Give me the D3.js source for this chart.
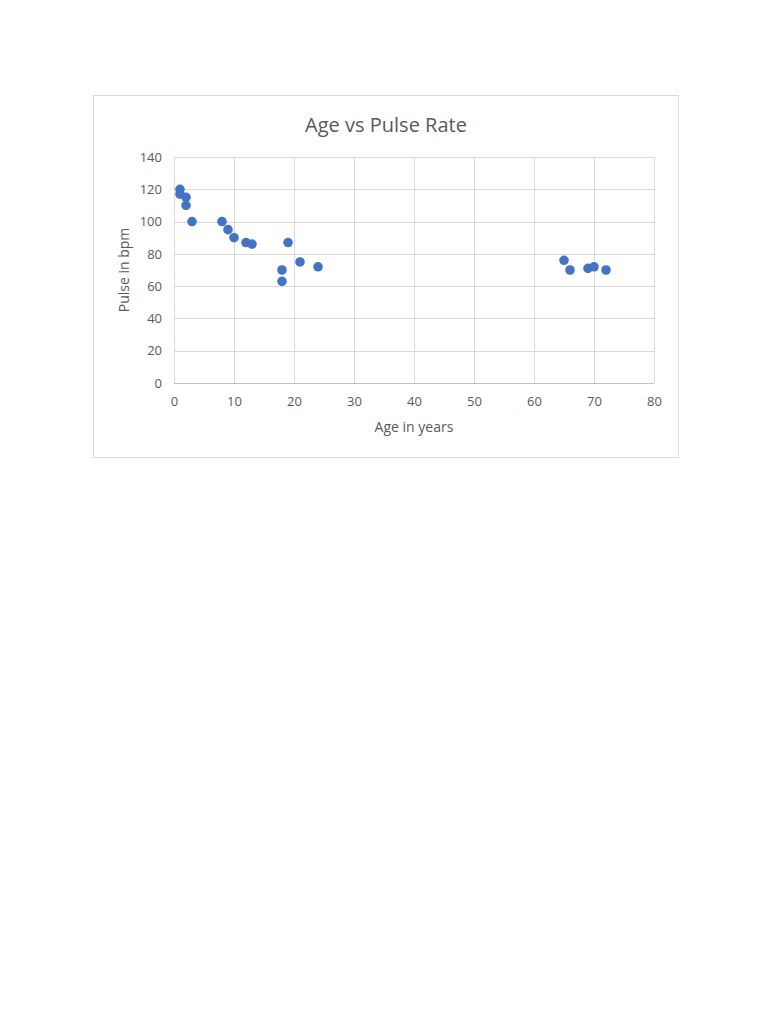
<!DOCTYPE html>
<html>
<head>
<meta charset="utf-8">
<script src="https://d3js.org/d3.v7.min.js"></script>
<style>
  body { margin: 0; background: #fff; }
  text { font-family: "Open Sans", "Liberation Sans", sans-serif; }
</style>
</head>
<body>
<script>
// readings
const ages   = [1, 1, 2, 2, 3, 8, 9, 10, 12, 13, 18, 18, 19, 21, 24, 65, 66, 69, 70, 72];
const pulses = [120, 117, 115, 110, 100, 100, 95, 90, 87, 86, 70, 63, 87, 75, 72, 76, 70, 71, 72, 70];
const xTicks = [0, 10, 20, 30, 40, 50, 60, 70, 80];
const yTicks = [0, 20, 40, 60, 80, 100, 120, 140];

const points = ages.map((a, i) => ({age: a, pulse: pulses[i]}));

const svg = d3.select('body').append('svg')
  .attr('width', 768)
  .attr('height', 1024);

// chart frame
svg.append('rect')
  .attr('x', 93.5).attr('y', 95.5)
  .attr('width', 585).attr('height', 362)
  .attr('fill', '#fff')
  .attr('stroke', '#d9d9d9')
  .attr('stroke-width', 1);

const x = d3.scaleLinear().domain([0, 80]).range([174, 654]);
const y = d3.scaleLinear().domain([0, 140]).range([383, 157]);

// gridlines
svg.append('g')
  .selectAll('line')
  .data(yTicks)
  .enter()
  .append('line')
  .attr('x1', x(0)).attr('x2', x(80))
  .attr('y1', d => Math.round(y(d)) + 0.5)
  .attr('y2', d => Math.round(y(d)) + 0.5)
  .attr('stroke', '#d9d9d9');

svg.append('g')
  .selectAll('line')
  .data(xTicks)
  .enter()
  .append('line')
  .attr('y1', y(0)).attr('y2', y(140))
  .attr('x1', d => Math.round(x(d)) + 0.5)
  .attr('x2', d => Math.round(x(d)) + 0.5)
  .attr('stroke', '#d9d9d9');

// axes (labels only, lines drawn above)
const xAxis = svg.append('g')
  .attr('transform', `translate(0,${y(0)})`)
  .call(d3.axisBottom(x).tickValues(xTicks).tickSize(0).tickPadding(14));

const yAxis = svg.append('g')
  .attr('transform', `translate(${x(0)},0)`)
  .call(d3.axisLeft(y).tickValues(yTicks).tickSize(0).tickPadding(12));

[xAxis, yAxis].forEach(a => {
  a.select('.domain').remove();
  a.selectAll('text')
    .style('font-family', '"Open Sans", sans-serif')
    .style('font-size', '13px')
    .attr('fill', '#595959');
});

svg.append('line')
  .attr('x1', x(0)).attr('x2', x(80))
  .attr('y1', Math.round(y(0)) + 0.5).attr('y2', Math.round(y(0)) + 0.5)
  .attr('stroke', '#bfbfbf');

// points
svg.append('g')
  .selectAll('circle')
  .data(points)
  .enter()
  .append('circle')
  .attr('cx', d => x(d.age))
  .attr('cy', d => y(d.pulse))
  .attr('r', 4.8)
  .attr('fill', '#4472c4');

// titles
svg.append('text')
  .attr('x', 386).attr('y', 132)
  .attr('text-anchor', 'middle')
  .attr('fill', '#595959')
  .style('font-size', '20px')
  .text('Age vs Pulse Rate');

svg.append('text')
  .attr('x', 414).attr('y', 432)
  .attr('text-anchor', 'middle')
  .attr('fill', '#595959')
  .style('font-size', '14px')
  .text('Age in years');

svg.append('text')
  .attr('transform', `translate(129,${(y(0) + y(140)) / 2}) rotate(-90)`)
  .attr('text-anchor', 'middle')
  .attr('fill', '#595959')
  .style('font-size', '14px')
  .text('Pulse in bpm');
</script>
</body>
</html>
